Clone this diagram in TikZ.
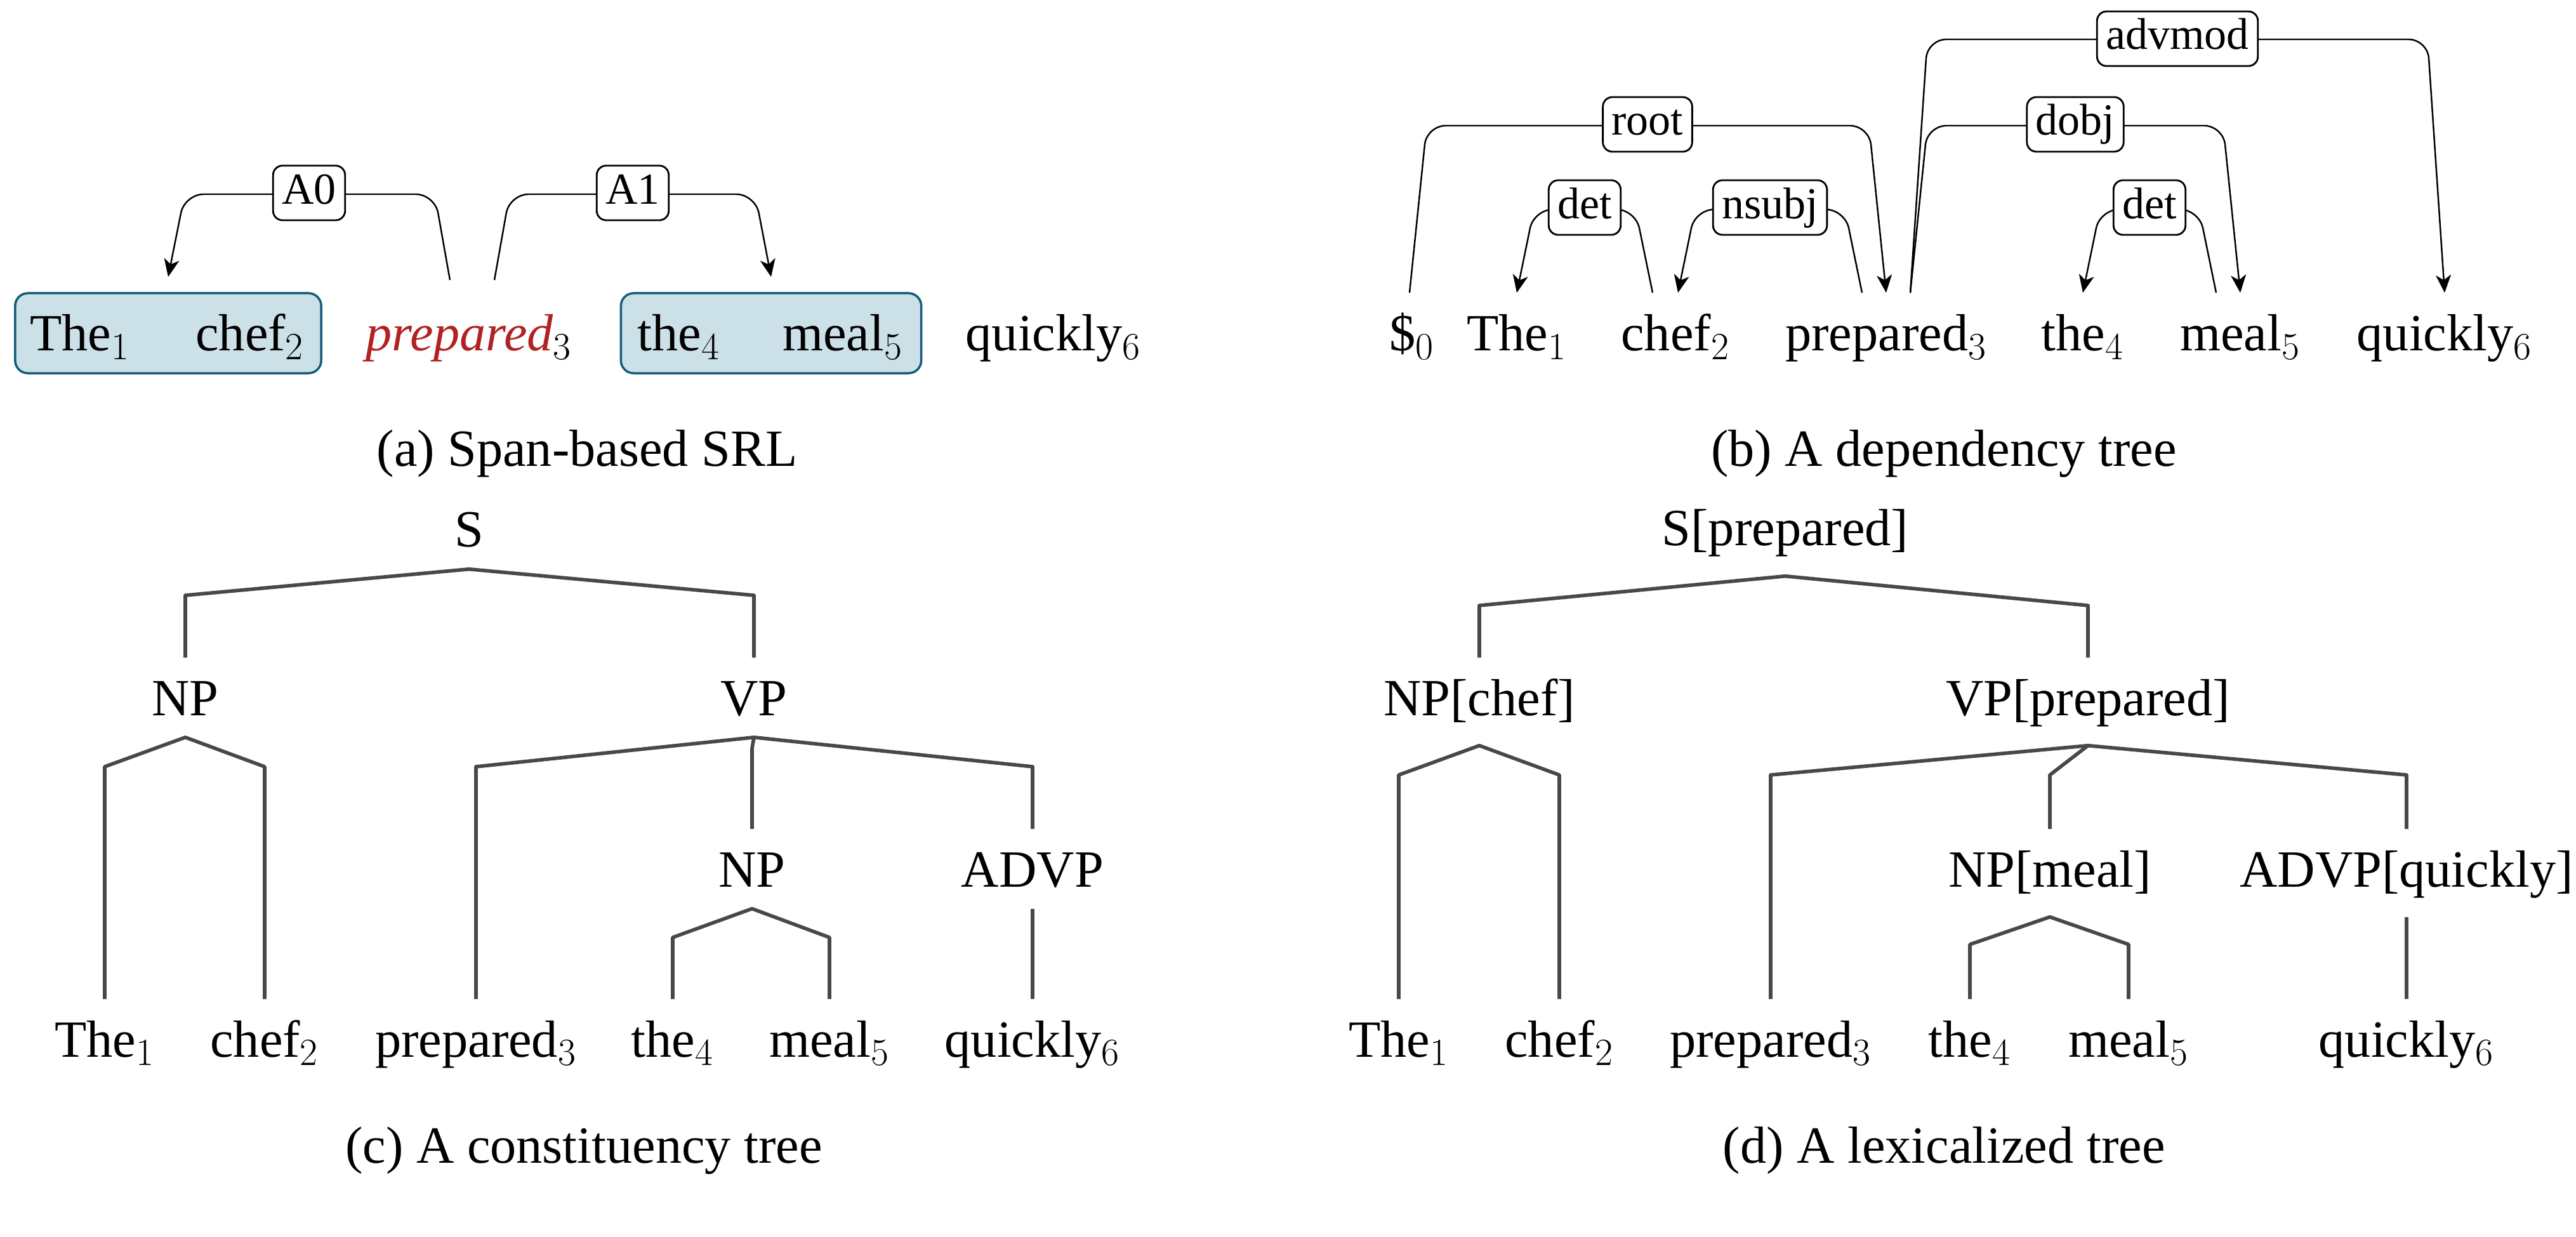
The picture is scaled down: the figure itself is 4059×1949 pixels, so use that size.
\documentclass[tikz,border=0pt]{standalone}
\usepackage{fontspec}
\setmainfont{Liberation Serif}
\usetikzlibrary{arrows.meta,calc}
\definecolor{spanfill}{RGB}{204,224,232}
\definecolor{spanline}{RGB}{22,92,122}
\definecolor{predred}{RGB}{178,34,34}
\definecolor{treegray}{RGB}{72,72,72}
\newcommand\wordfont{\fontsize{23.4}{28}\selectfont}
\newcommand\labfont{\fontsize{19.9}{24}\selectfont}
\begin{document}
\begin{tikzpicture}[x=0.01cm,y=-0.01cm,
  every node/.style={font=\wordfont},
  aword/.style={anchor=base, inner sep=0, text height=1.11cm, text depth=0.3cm},
  bword/.style={anchor=base, inner sep=0, text height=0.91cm, text depth=0.3cm},
  cword/.style={anchor=base, inner sep=0, text height=0.90cm, text depth=0.3cm},
  cnt/.style={anchor=base, inner sep=0, text height=0.90cm, text depth=0.34cm},
  dnt/.style={anchor=base, inner sep=0, text height=0.90cm, text depth=0.47cm},
  spanbox/.style={draw=spanline, fill=spanfill, rounded corners=0.2cm, line width=1pt, inner sep=0},
  depedge/.style={draw=black, line width=0.7pt, rounded corners=0.3cm},
  deparrow/.style={depedge, -{Stealth[length=0.28cm,width=0.24cm,inset=0.08cm]}},
  deplab/.style={draw=black, fill=white, line width=0.8pt, rounded corners=0.15cm, font=\labfont,
    inner xsep=0.14cm, inner ysep=0, minimum height=0.86cm, text height=0.47cm, text depth=0.13cm},
  treeline/.style={draw=treegray, line width=1.6pt, line join=round},
  capt/.style={anchor=base, inner sep=0}]
\useasboundingbox (0,0) rectangle (4059,1949);

% ---------------- (a) Span-based SRL ----------------
\node[spanbox, minimum width=4.82cm, minimum height=1.26cm] (box1) at (265,525) {};
\node[spanbox, minimum width=4.73cm, minimum height=1.26cm] (box2) at (1215,525) {};
\node[aword] (a1) at (126,553) {The$_1$};
\node[aword] (a2) at (394,553) {chef$_2$};
\node[aword] (a3) at (739,553) {\textcolor{predred}{\itshape prepared}$_3$};
\node[aword] (a4) at (1070,553) {the$_4$};
\node[aword] (a5) at (1328,553) {meal$_5$};
\node[aword] (a6) at (1660,553) {quickly$_6$};
\draw[deparrow] ([xshift=-0.30cm]a3.north) -- (685,306) -- (291,306) -- ([yshift=0.24cm]box1.north);
\draw[deparrow] ([xshift=0.40cm]a3.north) -- (803,306) -- (1190,306) -- ([yshift=0.24cm]box2.north);
\node[deplab] (lA0) at (487,304) {A0};
\node[deplab] (lA1) at (997,304) {A1};
\node[capt] (capa) at (925,735) {(a) Span-based SRL};

% ---------------- (b) Dependency tree ----------------
\node[bword] (b0) at (2225,553) {\$$_0$};
\node[bword] (b1) at (2390,553) {The$_1$};
\node[bword] (b2) at (2640,553) {chef$_2$};
\node[bword] (b3) at (2972,553) {prepared$_3$};
\node[bword] (b4) at (3282,553) {the$_4$};
\node[bword] (b5) at (3530,553) {meal$_5$};
\node[bword] (b6) at (3852,553) {quickly$_6$};
% root
\draw[deparrow] ([xshift=-0.04cm]b0.north) -- (2248,198) -- (2945,198) -- (b3.north);
% det
\draw[deparrow] ([xshift=-0.36cm]b2.north) -- (2577,330) -- (2417,330) -- (b1.north);
% nsubj
\draw[deparrow] ([xshift=-0.38cm]b3.north) -- (2907,330) -- (2671,330) -- ([xshift=0.04cm]b2.north);
% dobj
\draw[deparrow] ([xshift=0.38cm]b3.north) -- (3037,198) -- (3503,198) -- (b5.north);
% advmod
\draw[deparrow] ([xshift=0.38cm]b3.north) -- (3037,62) -- (3825,62) -- (b6.north);
% det
\draw[deparrow] ([xshift=-0.38cm]b5.north) -- (3465,330) -- (3309,330) -- (b4.north);
\node[deplab] (lroot) at (2596,196) {root};
\node[deplab] (ldet1) at (2497,327) {det};
\node[deplab] (lnsubj) at (2789,327) {nsubj};
\node[deplab] (ldobj) at (3270,196) {dobj};
\node[deplab] (ladv) at (3431,61) {advmod};
\node[deplab] (ldet2) at (3387,327) {det};
\node[capt] (capb) at (3063,735) {(b) A dependency tree};

% ---------------- (c) Constituency tree ----------------
\coordinate (c1) at (0,938);
\coordinate (c2) at (0,1208);
\coordinate (c2m) at (0,1179);
\coordinate (c3) at (0,1477);
\node[cnt] (cS) at (739,862) {S};
\node[cnt] (cNP) at (292,1127) {NP};
\node[cnt] (cVP) at (1188,1127) {VP};
\node[cnt] (cNPb) at (1185,1397) {NP};
\node[cnt] (cADVP) at (1627,1397) {ADVP};
\node[cword] (cw1) at (165,1665) {The$_1$};
\node[cword] (cw2) at (417,1665) {chef$_2$};
\node[cword] (cw3) at (750,1665) {prepared$_3$};
\node[cword] (cw4) at (1060,1665) {the$_4$};
\node[cword] (cw5) at (1307,1665) {meal$_5$};
\node[cword] (cw6) at (1627,1665) {quickly$_6$};
\draw[treeline] (cNP.north) -- (cNP.north |- c1) -- (cS.south) -- (cVP.north |- c1) -- (cVP.north);
\draw[treeline] (cw1.north) -- (cw1.north |- c2) -- (cNP.south) -- (cw2.north |- c2) -- (cw2.north);
\draw[treeline] (cw3.north) -- (cw3.north |- c2) -- (cVP.south) -- (cADVP.north |- c2) -- (cADVP.north);
\draw[treeline] (cVP.south) -- (cNPb.north |- c2m) -- (cNPb.north);
\draw[treeline] (cw4.north) -- (cw4.north |- c3) -- (cNPb.south) -- (cw5.north |- c3) -- (cw5.north);
\draw[treeline] (cADVP.south) -- (cw6.north);
\node[capt] (capc) at (920,1832) {(c) A constituency tree};

% ---------------- (d) Lexicalized tree ----------------
\coordinate (d1) at (0,954);
\coordinate (d2) at (0,1221);
\coordinate (d3) at (0,1488);
\node[dnt] (dS) at (2813,860) {S[prepared]};
\node[dnt] (dNP) at (2331,1127) {NP[chef]};
\node[dnt] (dVP) at (3290,1127) {VP[prepared]};
\node[dnt] (dNPb) at (3230,1397) {NP[meal]};
\node[dnt] (dADVP) at (3792,1397) {ADVP[quickly]};
\node[cword] (dw1) at (2204,1665) {The$_1$};
\node[cword] (dw2) at (2457,1665) {chef$_2$};
\node[cword] (dw3) at (2790,1665) {prepared$_3$};
\node[cword] (dw4) at (3104,1665) {the$_4$};
\node[cword] (dw5) at (3354,1665) {meal$_5$};
\node[cword] (dw6) at (3792,1665) {quickly$_6$};
\draw[treeline] (dNP.north) -- (dNP.north |- d1) -- (dS.south) -- (dVP.north |- d1) -- (dVP.north);
\draw[treeline] (dw1.north) -- (dw1.north |- d2) -- (dNP.south) -- (dw2.north |- d2) -- (dw2.north);
\draw[treeline] (dw3.north) -- (dw3.north |- d2) -- (dVP.south) -- (dADVP.north |- d2) -- (dADVP.north);
\draw[treeline] (dVP.south) -- (dNPb.north |- d2) -- (dNPb.north);
\draw[treeline] (dw4.north) -- (dw4.north |- d3) -- (dNPb.south) -- (dw5.north |- d3) -- (dw5.north);
\draw[treeline] (dADVP.south) -- (dw6.north);
\node[capt] (capd) at (3063,1832) {(d) A lexicalized tree};
\end{tikzpicture}
\end{document}
